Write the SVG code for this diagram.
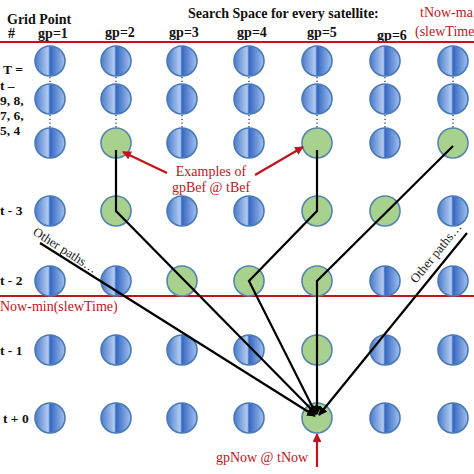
<svg xmlns="http://www.w3.org/2000/svg" width="474" height="474" viewBox="0 0 474 474">
<defs>
<linearGradient id="blueG" x1="0" y1="0" x2="1" y2="0">
<stop offset="0" stop-color="#4a7bcb"/>
<stop offset="0.44" stop-color="#b2cbf1"/>
<stop offset="0.5" stop-color="#3666c0"/>
<stop offset="0.58" stop-color="#4576c9"/>
<stop offset="1" stop-color="#a3c1ee"/>
</linearGradient>
<marker id="blk" viewBox="0 0 10 10" refX="9" refY="5" markerWidth="4" markerHeight="4" orient="auto" markerUnits="strokeWidth">
<path d="M0,0 L10,5 L0,10 z" fill="#000"/>
</marker>
<marker id="red" viewBox="0 0 10 10" refX="9" refY="5" markerWidth="4" markerHeight="4" orient="auto" markerUnits="strokeWidth">
<path d="M0,0 L10,5 L0,10 z" fill="#c0141c"/>
</marker>
</defs>
<style>
.b{fill:url(#blueG);stroke:#4a7ab5;stroke-width:1.6}
.g{fill:#a9d18e;stroke:#5585ad;stroke-width:1.6}
.dot{stroke:#2a3f66;stroke-width:1.3;stroke-dasharray:1.3 2.4;fill:none}
.hd{font-family:"Liberation Serif",serif;font-weight:bold;font-size:14px;fill:#111}
.lb{font-family:"Liberation Serif",serif;font-weight:bold;font-size:13.5px;fill:#111}
.rt{font-family:"Liberation Serif",serif;font-size:14px;fill:#c0141c}
.op{font-family:"Liberation Serif",serif;font-size:13px;fill:#222}
.path{fill:none;stroke:#000;stroke-width:2.2;marker-end:url(#blk)}
.rarr{fill:none;stroke:#c0141c;stroke-width:2.2;marker-end:url(#red)}
.rl{stroke:#c0141c;stroke-width:2}
</style>
<rect width="474" height="474" fill="#fff"/>

<g id="header">
<text class="hd" x="7" y="24">Grid Point</text>
<text class="hd" x="188" y="18">Search Space for every satellite:</text>
<text class="hd" x="8" y="38">#</text>
<text class="hd" x="53" y="38" text-anchor="middle">gp=1</text>
<text class="hd" x="120" y="37" text-anchor="middle">gp=2</text>
<text class="hd" x="184" y="37" text-anchor="middle">gp=3</text>
<text class="hd" x="252" y="37" text-anchor="middle">gp=4</text>
<text class="hd" x="322" y="37" text-anchor="middle">gp=5</text>
<text class="hd" x="392" y="40" text-anchor="middle">gp=6</text>
<text class="rt" x="420" y="17">tNow-ma</text>
<text class="rt" x="415" y="36">(slewTime</text>
<line class="rl" x1="0" y1="42" x2="474" y2="42"/>
</g>

<g id="row-labels">
<text class="lb" x="3" y="74">T =</text>
<text class="lb" x="0" y="90">t –</text>
<text class="lb" x="0" y="105">9, 8,</text>
<text class="lb" x="0" y="120">7, 6,</text>
<text class="lb" x="0" y="135">5, 4</text>
<text class="lb" x="0" y="215">t - 3</text>
<text class="lb" x="0" y="285">t - 2</text>
<text class="lb" x="0" y="355">t - 1</text>
<text class="lb" x="3" y="423">t + 0</text>
</g>

<g id="min-line">
<line class="rl" x1="0" y1="296" x2="474" y2="296"/>
<text class="rt" x="0" y="311">Now-min(slewTime)</text>
</g>

<g id="dotted">
<path class="dot" d="M50,77 V84 M50,115 V128 M116,77 V84 M116,115 V128 M182,77 V84 M182,115 V128 M249,77 V84 M249,115 V128 M317,77 V84 M317,115 V128 M385,77 V84 M385,115 V128 M453,77 V84 M453,115 V128"/>
</g>

<g id="r1c1"><circle class="b" cx="50" cy="61" r="15"/></g>
<g id="r1c2"><circle class="b" cx="116" cy="61" r="15"/></g>
<g id="r1c3"><circle class="b" cx="182" cy="61" r="15"/></g>
<g id="r1c4"><circle class="b" cx="249" cy="61" r="15"/></g>
<g id="r1c5"><circle class="b" cx="317" cy="61" r="15"/></g>
<g id="r1c6"><circle class="b" cx="385" cy="61" r="15"/></g>
<g id="r1c7"><circle class="b" cx="453" cy="61" r="15"/></g>

<g id="r2c1"><circle class="b" cx="50" cy="99" r="15"/></g>
<g id="r2c2"><circle class="b" cx="116" cy="99" r="15"/></g>
<g id="r2c3"><circle class="b" cx="182" cy="99" r="15"/></g>
<g id="r2c4"><circle class="b" cx="249" cy="99" r="15"/></g>
<g id="r2c5"><circle class="b" cx="317" cy="99" r="15"/></g>
<g id="r2c6"><circle class="b" cx="385" cy="99" r="15"/></g>
<g id="r2c7"><circle class="b" cx="453" cy="99" r="15"/></g>

<g id="r3c1"><circle class="b" cx="50" cy="143" r="15"/></g>
<g id="r3c2"><circle class="g" cx="116" cy="143" r="15"/></g>
<g id="r3c3"><circle class="b" cx="182" cy="143" r="15"/></g>
<g id="r3c4"><circle class="b" cx="249" cy="143" r="15"/></g>
<g id="r3c5"><circle class="g" cx="317" cy="143" r="15"/></g>
<g id="r3c6"><circle class="b" cx="385" cy="143" r="15"/></g>
<g id="r3c7"><circle class="g" cx="453" cy="143" r="15"/></g>

<g id="t3c1"><circle class="b" cx="50" cy="211" r="15"/></g>
<g id="t3c2"><circle class="g" cx="116" cy="211" r="15"/></g>
<g id="t3c3"><circle class="b" cx="182" cy="211" r="15"/></g>
<g id="t3c4"><circle class="b" cx="249" cy="211" r="15"/></g>
<g id="t3c5"><circle class="g" cx="317" cy="211" r="15"/></g>
<g id="t3c6"><circle class="g" cx="385" cy="211" r="15"/></g>
<g id="t3c7"><circle class="b" cx="453" cy="211" r="15"/></g>

<g id="t2c1"><circle class="b" cx="50" cy="281" r="15"/></g>
<g id="t2c2"><circle class="b" cx="116" cy="281" r="15"/></g>
<g id="t2c3"><circle class="g" cx="182" cy="281" r="15"/></g>
<g id="t2c4"><circle class="g" cx="249" cy="281" r="15"/></g>
<g id="t2c5"><circle class="g" cx="317" cy="281" r="15"/></g>
<g id="t2c6"><circle class="b" cx="385" cy="281" r="15"/></g>
<g id="t2c7"><circle class="b" cx="453" cy="281" r="15"/></g>

<g id="t1c1"><circle class="b" cx="50" cy="350" r="15"/></g>
<g id="t1c2"><circle class="b" cx="116" cy="350" r="15"/></g>
<g id="t1c3"><circle class="b" cx="182" cy="350" r="15"/></g>
<g id="t1c4"><circle class="b" cx="249" cy="350" r="15"/></g>
<g id="t1c5"><circle class="g" cx="317" cy="350" r="15"/></g>
<g id="t1c6"><circle class="b" cx="385" cy="350" r="15"/></g>
<g id="t1c7"><circle class="b" cx="453" cy="350" r="15"/></g>

<g id="t0c1"><circle class="b" cx="50" cy="418" r="15"/></g>
<g id="t0c2"><circle class="b" cx="116" cy="418" r="15"/></g>
<g id="t0c3"><circle class="b" cx="182" cy="418" r="15"/></g>
<g id="t0c4"><circle class="b" cx="249" cy="418" r="15"/></g>
<g id="t0c5"><circle class="g" cx="317" cy="418" r="15"/></g>
<g id="t0c6"><circle class="b" cx="385" cy="418" r="15"/></g>
<g id="t0c7"><circle class="b" cx="453" cy="418" r="15"/></g>

<g id="connectors">
<path class="path" d="M116,150 L116,211 L316,414"/>
<path class="path" d="M317,150 L317,211 L249,281 L316,414"/>
<path class="path" d="M453,146 L317,281 L317,414"/>
<path class="path" d="M40,243 L315,416"/>
<path class="path" d="M467,233 L319,415"/>
<path class="rarr" d="M167,173 L123,152"/>
<path class="rarr" d="M255,175 L303,147"/>
<path class="rarr" d="M317,467 L317,434"/>
</g>

<g id="labels">
<text class="rt" x="211" y="176" text-anchor="middle">Examples of</text>
<text class="rt" x="211" y="192" text-anchor="middle">gpBef @ tBef</text>
<text class="rt" x="262" y="462" text-anchor="middle">gpNow @ tNow</text>
<text class="op" transform="translate(32,234) rotate(32.5)">Other paths…</text>
<text class="op" transform="translate(416,284) rotate(-51)">Other paths…</text>
</g>
</svg>
